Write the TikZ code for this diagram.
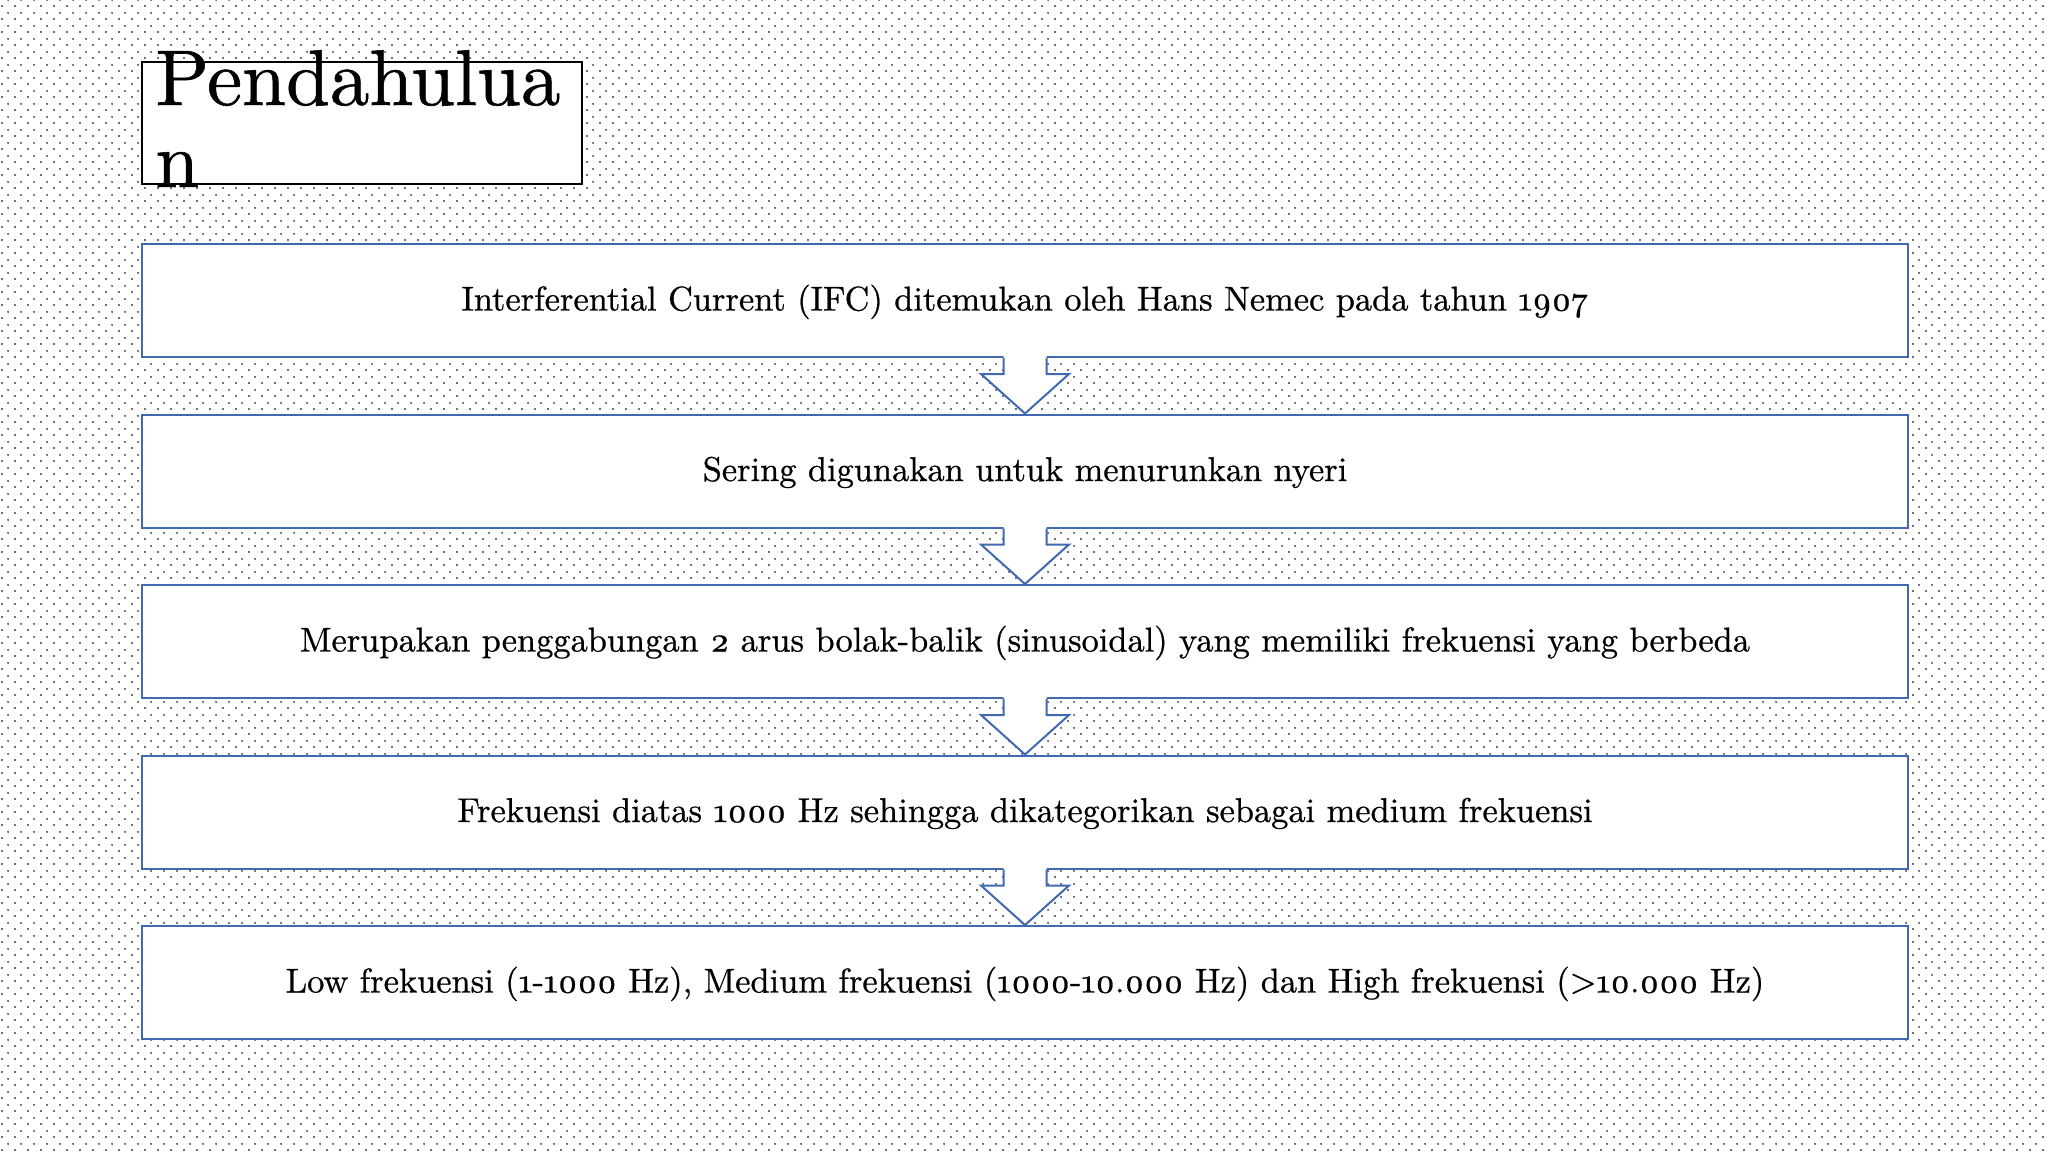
\documentclass[tikz,border=0pt]{standalone}
\usepackage{fontspec}
\setmainfont{lmroman10-regular.otf}[Numbers=OldStyle, FakeBold=0.7]
\usetikzlibrary{patterns,calc}
\pgfdeclarepatternformonly{bgdots}{\pgfqpoint{0pt}{0pt}}{\pgfqpoint{6.5pt}{6.5pt}}{\pgfqpoint{6.5pt}{6.5pt}}{%
  \pgfpathcircle{\pgfqpoint{1.625pt}{1.625pt}}{0.6pt}%
  \pgfpathcircle{\pgfqpoint{4.875pt}{4.875pt}}{0.6pt}%
  \pgfusepath{fill}}
\definecolor{boxblue}{HTML}{4169B0}
\definecolor{dotgray}{HTML}{404040}
\begin{document}
\begin{tikzpicture}[x=0.5pt,y=-0.5pt,
  stepbox/.style={draw=boxblue, line width=1pt, fill=white,
    minimum width=883pt, minimum height=56.5pt, inner sep=0pt,
    font=\fontsize{17.2pt}{21pt}\selectfont\bfseries, text height=14pt, text depth=4pt},
  titlebox/.style={draw=black, line width=0.75pt, fill=white,
    minimum width=220pt, minimum height=61pt, inner sep=0pt, anchor=north west},
  titletext/.style={inner sep=0pt, anchor=base west, font=\fontsize{39.5pt}{47pt}\selectfont\bfseries},
  blockarrow/.style={draw=boxblue, line width=1pt, line join=miter}
]
\useasboundingbox (0,0) rectangle (2048,1152);
\fill[white] (0,0) rectangle (2048,1152);
\fill[pattern=bgdots, pattern color=dotgray] (0,0) rectangle (2048,1152);

% title
\node[titlebox] (tb) at (141,61) {};
\node[titletext] (t1) at (155,105) {Pendahulua};
\node[titletext] (t2) at (155,187) {n};

% boxes
\node[stepbox, anchor=north west] (b1) at (141,243) {Interferential Current (IFC) ditemukan oleh Hans Nemec pada tahun 1907};
\node[stepbox, anchor=north west] (b2) at (141,413.5) {Sering digunakan untuk menurunkan nyeri};
\node[stepbox, anchor=north west] (b3) at (141,584) {Merupakan penggabungan 2 arus bolak-balik (sinusoidal) yang memiliki frekuensi yang berbeda};
\node[stepbox, anchor=north west] (b4) at (141,754.5) {Frekuensi diatas 1000 Hz sehingga dikategorikan sebagai medium frekuensi};
\node[stepbox, anchor=north west] (b5) at (141,925) {Low frekuensi (1-1000 Hz), Medium frekuensi (1000-10.000 Hz) dan High frekuensi (>10.000 Hz)};

% block arrows
\foreach \a/\b in {b1/b2, b2/b3, b3/b4, b4/b5}{
  \fill[white] ($(\a.south)+(-21.5,-2)$) -- ($(\a.south)+(-21.5,16)$) -- ($(\a.south)+(-44,16)$)
     -- (\b.north) -- ($(\a.south)+(44,16)$) -- ($(\a.south)+(21.5,16)$) -- ($(\a.south)+(21.5,-2)$) -- cycle;
  \draw[blockarrow] ($(\a.south)+(-21.5,0)$) -- ($(\a.south)+(-21.5,16)$) -- ($(\a.south)+(-44,16)$)
     -- (\b.north) -- ($(\a.south)+(44,16)$) -- ($(\a.south)+(21.5,16)$) -- ($(\a.south)+(21.5,0)$);
}
\end{tikzpicture}
\end{document}
